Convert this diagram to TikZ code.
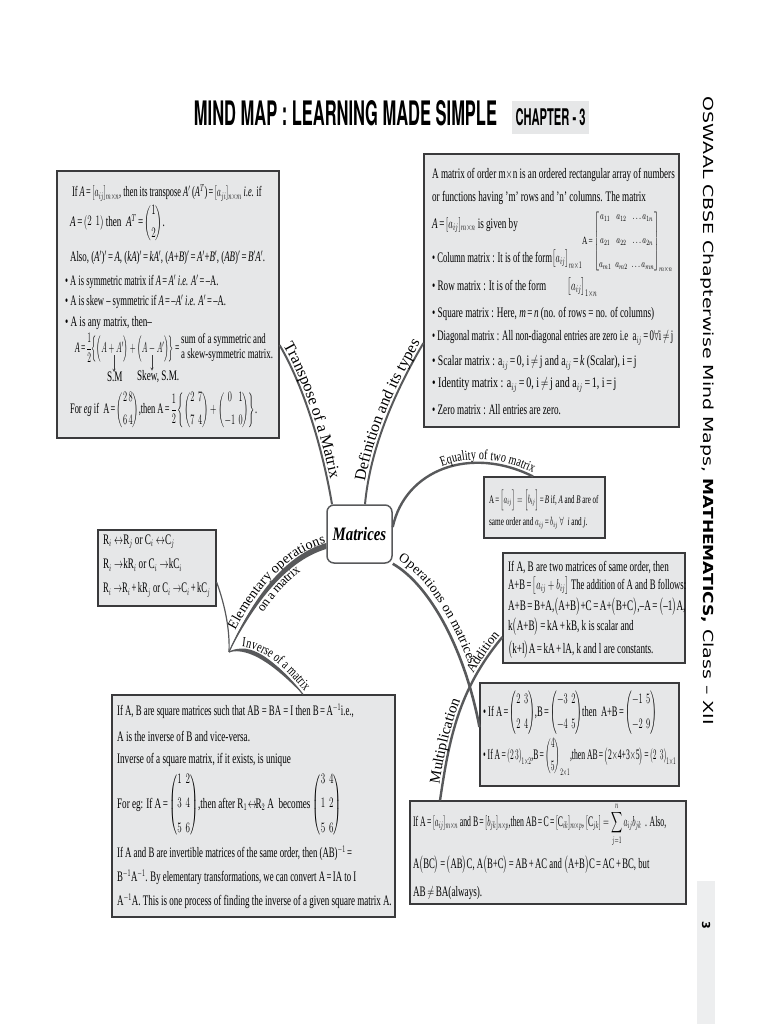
\documentclass[tikz,border=0pt]{standalone}
\usepackage{amsmath,amssymb}
\usepackage{fontspec}
\setmainfont{Liberation Serif}
\newfontfamily\sidefont{DejaVu Sans}
\newfontfamily\titlefont{TeX Gyre Heros}
\newfontfamily\branchfont[FakeStretch=.72]{Liberation Serif}
\usetikzlibrary{positioning,calc,decorations.text}

\definecolor{boxgray}{HTML}{E6E7E8}
\definecolor{rulegray}{HTML}{3A3A3C}
\definecolor{branchgray}{HTML}{58595B}
\newcommand\lblfont[1]{\fontsize{#1}{#1}\selectfont}
\newcommand\brfont[1]{\branchfont\fontsize{#1}{#1}\selectfont}
\newcommand\lp{$\bigl($}
\newcommand\rp{$\bigr)$}
\newcommand\tallb[1]{\left[\rule[-6pt]{0pt}{17pt}#1\right]}
\setlength\arraycolsep{3pt}

\tikzset{
  mapbox/.style={draw=rulegray,fill=boxgray,line width=1.1pt,inner sep=0pt},
  boxline/.style={anchor=west,inner sep=0pt,font=\lblfont{14.5},xscale=.63,transform shape},
  smallline/.style={boxline,font=\lblfont{11.5}},
  branch/.style={draw=branchgray,line width=2pt},
  along/.style n args={3}{postaction={decorate,decoration={text along path,
    text={#1},text align={left indent=#2},raise=#3}}}
}

\begin{document}
\begin{tikzpicture}[x=1pt,y=-1pt]
\useasboundingbox (0,0) rectangle (768,1024);

% title
\node [inner sep=0pt] (title) at (345.5,113)
  {\resizebox{303pt}{25pt}{\titlefont\bfseries MIND MAP : LEARNING MADE SIMPLE}};
\node [fill=boxgray,minimum width=77pt,minimum height=33pt,inner sep=0pt] (chapterbox) at (550.5,117.5)
  {\resizebox{70pt}{17pt}{\titlefont\bfseries CHAPTER - 3}};
\node [rotate=-90,inner sep=0pt] (sidetext) at (706.9,411)
  {\resizebox{628pt}{10.5pt}{\sidefont OSWAAL CBSE Chapterwise Mind Maps, \scalebox{.9}[1]{\textbf{MATHEMATICS,}} Class – XII}};
\node [fill=boxgray!70,minimum width=18pt,minimum height=143pt,inner sep=0pt] (pagetab) at (706,952.5) {};
\node [rotate=-90,inner sep=0pt,font=\sidefont\bfseries\lblfont{11}] (pagenum) at (706,925) {3};

% boxes
\node [mapbox,minimum width=222pt,minimum height=267pt] (transpose) at (168,304.5) {};
\node [mapbox,minimum width=255pt,minimum height=273pt] (types) at (551.5,290.5) {};
\node [mapbox,minimum width=121pt,minimum height=61pt] (equality) at (544.5,507.5) {};
\node [mapbox,minimum width=182pt,minimum height=110pt] (addition) at (594,608) {};
\node [mapbox,minimum width=199pt,minimum height=103pt] (product) at (579.5,734.5) {};
\node [mapbox,minimum width=276pt,minimum height=103pt] (multiply) at (548,852.5) {};
\node [mapbox,minimum width=283pt,minimum height=222pt] (inverse) at (253.5,806) {};
\node [mapbox,minimum width=118pt,minimum height=76pt] (elementary) at (157,568) {};
\node [draw=branchgray,fill=white,line width=1.5pt,rounded corners=7pt,minimum width=65pt,minimum height=58pt,
  inner sep=0pt,font=\bfseries\itshape\lblfont{19}] (matrices) at (359.5,534) {\scalebox{.78}[1]{Matrices}};

% branches
\coordinate (fork) at (229,652);
\draw [branch,along={|\lblfont{16}|Transpose of a Matrix}{2pt}{3pt}] (transpose.east |- 0,345) .. controls (303,385) and (322,445) .. (matrices.north west -| 332,0);
\draw [branch,along={|\lblfont{16}|Definition and its types}{22pt}{3pt}] (matrices.north -| 365,0) .. controls (370,450) and (393,395) .. (types.west |- 0,343);
\draw [branch,line width=2.4pt,along={|\brfont{14}|Equality of two matrix}{80pt}{3pt}] (matrices.east |- 0,527) .. controls (405,470) and (470,445) .. (equality.north -| 533,0);
\draw [branch,line width=2.6pt,along={|\lblfont{13.5}|Operations on matrices}{2pt}{6pt}] (matrices.south east) .. controls (430,585) and (465,650) .. (product.west |- 0,727);
\draw [branch,line width=2.4pt,along={|\lblfont{15}|Multiplication}{16pt}{3pt},along={|\lblfont{13}|Addition}{131pt}{3pt}] (multiply.north -| 440,0) .. controls (449,740) and (458,690) .. (addition.west |- 0,637);
\draw [branch,line width=1.2pt,along={|\lblfont{14}|Elementary operations}{22pt}{4pt},along={|\lblfont{13}|on a matrix}{52pt}{-11pt}] (fork) .. controls (248,610) and (280,560) .. (matrices.west |- 0,547);
\fill [branchgray] (fork) .. controls (248,608) and (280,556) .. (matrices.west |- 0,543) -- (matrices.west |- 0,549) .. controls (282,562) and (250,612) .. (fork);
\draw [branch,line width=1.2pt] (elementary.east |- 0,582) .. controls (225,605) and (230,630) .. (fork);
\draw [branch,line width=1.2pt,along={|\brfont{14}|Inverse of a matrix}{13pt}{3pt}] (fork) .. controls (250,642) and (280,665) .. (inverse.north -| 303,0);
\fill [branchgray] (fork) .. controls (250,640) and (275,660) .. (inverse.north -| 303,0) .. controls (275,666) and (250,647) .. (fork);

% transpose box
\node [boxline,xscale=.91] (tr1) at (72,193) {If \textit{A}\,=\,$[a_{ij}]_{m\times n}$, then its transpose \textit{A}$'$ (\textit{A}$^{T}$)\,=\,$[a_{ji}]_{n\times m}$ \textit{i.e.} if};
\node [boxline] (tr2) at (70,223) {\textit{A}\,=\,$\begin{pmatrix}2&1\end{pmatrix}$ then \ \textit{A}$^{T}$\,=\,$\begin{pmatrix}1\\[9pt]2\end{pmatrix}$.};
\node [boxline,xscale=.97] (tr3) at (70,258) {Also, (\textit{A}$'$)$'$\,=\,\textit{A}, (\textit{kA})$'$\,=\,\textit{kA}$'$, (\textit{A}+\textit{B})$'$\,=\,\textit{A}$'$+\textit{B}$'$, (\textit{AB})$'$\,=\,\textit{B}$'$\textit{A}$'$.};
\node [boxline,xscale=.93] (tr4) at (65,282) {\textbullet\ A is symmetric matrix if \textit{A}\,=\,\textit{A}$'$ \textit{i.e.} \textit{A}$'$\,=\,--A.};
\node [boxline,xscale=.94] (tr5) at (65,302) {\textbullet\ A is skew -- symmetric if \textit{A}\,=\,--\textit{A}$'$ \textit{i.e.} \textit{A}$'$\,=\,--A.};
\node [boxline] (tr6) at (65,323) {\textbullet\ A is any matrix, then--};
\node [boxline,xscale=.84] (tr7) at (75,348) {\textit{A}\,=\,$\dfrac{1}{2}\Bigl\{\Bigl(A+A'\Bigr)+\Bigl(A-A'\Bigr)\Bigr\}$\,=};
\node [boxline,font=\lblfont{14}] (tr8) at (181,340) {sum of a symmetric and};
\node [boxline,font=\lblfont{14}] (tr9) at (181,355) {a skew-symmetric matrix.};
\node [boxline] (sm) at (107,377) {S.M};
\node [boxline] (skew) at (137,377) {Skew, S.M.};
\coordinate (smtop) at (114,355);
\coordinate (skewtop) at (152,355);
\draw [-stealth,rulegray] (smtop) -- (sm.north -| smtop);
\draw [-stealth,rulegray] (skewtop) -- (skew.north -| skewtop);
\node [boxline,xscale=.92] (tr10) at (70,410) {For \textit{eg} if \ A\,=\,$\begin{pmatrix}2\,8\\[8pt]6\,4\end{pmatrix}$,then A\,=\,$\dfrac{1}{2}\left\{\begin{pmatrix}2&7\\[8pt]7&4\end{pmatrix}+\begin{pmatrix}0&1\\[8pt]-1&0\end{pmatrix}\right\}$.};

% definition box
\node [boxline] (ty1) at (432,175) {A matrix of order m$\times$n is an ordered rectangular array of numbers};
\node [boxline] (ty2) at (432,198) {or functions having 'm' rows and 'n' columns. The matrix};
\node [boxline] (ty3) at (432,225) {\textit{A}\,=\,$[a_{ij}]_{m\times n}$ is given by};
\node [boxline,font=\lblfont{11},xscale=1.07] (ty4) at (582,242) {A\,=\,$\begin{bmatrix}a_{11}&a_{12}&\dots a_{1n}\\[13pt]a_{21}&a_{22}&\dots a_{2n}\\[13pt]a_{m1}&a_{m2}&\dots a_{mn}\end{bmatrix}_{m\times n}$};
\node [boxline,xscale=.95] (ty5) at (432,260) {\textbullet\ Column matrix : It is of the form$\tallb{a_{ij}}_{m\times 1}$};
\node [boxline] (ty6) at (432,288) {\textbullet\ Row matrix : It is of the form \hspace{30pt}$\tallb{a_{ij}}_{1\times n}$};
\node [boxline] (ty7) at (432,314) {\textbullet\ Square matrix : Here, \textit{m}\,=\,\textit{n} (no. of rows = no. of columns)};
\node [boxline,xscale=.96] (ty8) at (432,338) {\textbullet\ Diagonal matrix : All non-diagonal entries are zero i.e \ a$_{ij}$\,=\,0$\forall$i\,$\neq$\,j};
\node [boxline,xscale=1.06] (ty9) at (432,363) {\textbullet\ Scalar matrix : a$_{ij}$\,=\,0, i\,$\neq$\,j and a$_{ij}$\,=\,\textit{k} (Scalar), i\,=\,j};
\node [boxline,xscale=1.1] (ty10) at (432,385) {\textbullet\ Identity matrix : a$_{ij}$\,=\,0, i\,$\neq$\,j and a$_{ij}$\,=\,1, i\,=\,j};
\node [boxline] (ty11) at (432,410) {\textbullet\ Zero matrix : All entries are zero.};

% equality box
\node [smallline,xscale=.96] (eq1) at (489,500) {A\,=\,$\tallb{a_{ij}}=\tallb{b_{ij}}$\,=\,\textit{B} if, \textit{A} and \textit{B} are of};
\node [smallline] (eq2) at (489,523) {same order and $a_{ij}$\,=\,$b_{ij}\ \forall\ $ \textit{i} and \textit{j}.};

% addition box
\node [boxline] (ad1) at (508,568) {If A, B are two matrices of same order, then};
\node [boxline,xscale=.95] (ad2) at (508,586) {A+B\,=\,$\bigl[a_{ij}+b_{ij}\bigr]$ The addition of A and B follows:};
\node [boxline] (ad3) at (508,607) {A+B\,=\,B+A,\lp A+B\rp+C\,=\,A+\lp B+C\rp,--A\,=\,\lp--1\rp A,};
\node [boxline] (ad4) at (508,627) {k\lp A+B\rp\,=\,kA\,+\,kB, k is scalar and};
\node [boxline] (ad5) at (508,650) {\lp k+l\rp A\,=\,kA\,+\,lA, k and l are constants.};

% product box
\node [boxline,xscale=.93] (pr1) at (483,713) {\textbullet\ If A\,=\,$\begin{pmatrix}2&3\\[10pt]2&4\end{pmatrix}$,B\,=\,$\begin{pmatrix}-3&2\\[10pt]-4&5\end{pmatrix}$then \ A+B\,=\,$\begin{pmatrix}-1&5\\[10pt]-2&9\end{pmatrix}$};
\node [boxline,xscale=.84] (pr2) at (483,757) {\textbullet\ If A\,=\,$\begin{pmatrix}2\,3\end{pmatrix}_{1\times 2}$,B\,=\,$\begin{pmatrix}4\\[8pt]5\end{pmatrix}_{2\times 1}$,then AB\,=\,\lp 2$\times$4+3$\times$5\rp\,=\,$\begin{pmatrix}2&3\end{pmatrix}_{1\times 1}$};

% multiplication box
\node [boxline,xscale=.85] (mu1) at (413,825) {If A\,=\,$[a_{ij}]_{m\times n}$ and B\,=\,$[b_{jk}]_{n\times p}$,then AB\,=\,C\,=\,$[\mathrm{C}_{ik}]_{m\times p}$, $[\mathrm{C}_{jk}]=\displaystyle\sum_{j=1}^{n}a_{ij}b_{jk}$ \ . Also,};
\node [boxline,xscale=.95] (mu2) at (413,865) {A\lp BC\rp\,=\,\lp AB\rp C, A\lp B+C\rp\,=\,AB\,+\,AC and \lp A+B\rp C\,=\,AC\,+\,BC, but};
\node [boxline] (mu3) at (413,893) {AB\,$\neq$\,BA(always).};

% inverse box
\node [boxline,xscale=.96] (in1) at (117,711) {If A, B are square matrices such that AB = BA = I then B\,=\,A$^{-1}$i.e.,};
\node [boxline] (in2) at (117,736) {A is the inverse of B and vice-versa.};
\node [boxline] (in3) at (117,760) {Inverse of a square matrix, if it exists, is unique};
\node [boxline] (in4) at (117,805) {For eg: If A\,=\,$\begin{pmatrix}1&2\\[10pt]3&4\\[10pt]5&6\end{pmatrix}$,then after R$_1\!\leftrightarrow\!$R$_2$ A \ becomes $\begin{pmatrix}3&4\\[10pt]1&2\\[10pt]5&6\end{pmatrix}$};
\node [boxline,xscale=.96] (in5) at (117,853) {If A and B are invertible matrices of the same order, then (AB)$^{-1}$\,=};
\node [boxline,xscale=.96] (in6) at (117,877) {B$^{-1}$A$^{-1}$. By elementary transformations, we can convert A\,=\,IA to I};
\node [boxline,xscale=.985] (in7) at (117,901) {A$^{-1}$A. This is one process of finding the inverse of a given square matrix A.};

% elementary box
\node [boxline] (el1) at (103,542) {R$_i\leftrightarrow$R$_j$ or C$_i\leftrightarrow$C$_j$};
\node [boxline] (el2) at (103,565) {R$_i\rightarrow$kR$_i$ or C$_i\rightarrow$kC$_i$};
\node [boxline,xscale=.94] (el3) at (103,590) {R$_i\rightarrow$R$_i$\,+\,kR$_j$ or C$_i\rightarrow$C$_i$\,+\,kC$_j$};
\end{tikzpicture}
\end{document}
